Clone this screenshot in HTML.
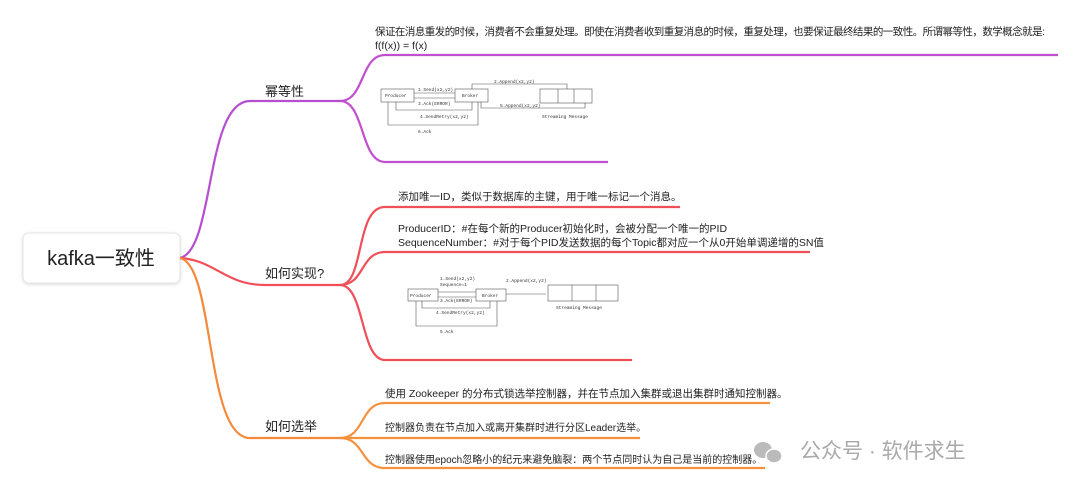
<!DOCTYPE html>
<html><head><meta charset="utf-8"><style>
body{margin:0;background:#fff;}
svg text{font-family:"Liberation Sans","Noto Sans CJK SC",sans-serif;fill:#222;}
.d text{font-family:"Liberation Mono",monospace;font-size:4.5px;fill:#333}
</style></head><body>
<svg width="1080" height="494" viewBox="0 0 1080 494" xmlns="http://www.w3.org/2000/svg">
<defs><filter id="sh" x="-10%" y="-10%" width="120%" height="130%"><feDropShadow dx="0" dy="1" stdDeviation="1.5" flood-color="#000" flood-opacity="0.15"/></filter></defs>
<rect x="23" y="233" width="157" height="50" rx="6" fill="#fff" stroke="#e6e6e6" filter="url(#sh)"/>
<text x="101" y="265" font-size="20" text-anchor="middle" fill="#333">kafka一致性</text>
<g fill="none" stroke-width="2.2">
<path d="M180 258 C215 250 205 101 250 101 L340 101" stroke="#b54fd0"/>
<path d="M340 101 C365 101 360 55 385 55 L1058 55" stroke="#c24fd0"/>
<path d="M340 101 C365 101 360 162 385 162 L608 162" stroke="#c24fd0"/>
<path d="M180 258 C215 260 225 285 265 285 L340 285" stroke="#f24e58"/>
<path d="M340 285 C365 285 355 207 385 207 L680 207" stroke="#f04e58"/>
<path d="M340 285 C365 285 360 252 385 252 L810 252" stroke="#f04e58"/>
<path d="M340 285 C365 285 360 360 385 360 L632 360" stroke="#f04e58"/>
<path d="M180 258 C215 265 205 438 250 438 L340 438" stroke="#f58a3c"/>
<path d="M340 438 C365 438 360 403 385 403 L770 403" stroke="#f5903c"/>
<path d="M340 438 L640 438" stroke="#f5903c"/>
<path d="M340 438 C365 438 360 468 385 468 L765 468" stroke="#f5903c"/>
</g>
<text x="265" y="96" font-size="13">幂等性</text>
<text x="265" y="278" font-size="13">如何实现?</text>
<text x="265" y="431" font-size="13">如何选举</text>
<g font-size="10.5">
<text x="375" y="35" textLength="670">保证在消息重发的时候，消费者不会重复处理。即使在消费者收到重复消息的时候，重复处理，也要保证最终结果的一致性。所谓幂等性，数学概念就是:</text>
<text x="375" y="49">f(f(x)) = f(x)</text>
<text x="398" y="200">添加唯一ID，类似于数据库的主键，用于唯一标记一个消息。</text>
<text x="398" y="232">ProducerID：#在每个新的Producer初始化时，会被分配一个唯一的PID</text>
<text x="398" y="246">SequenceNumber：#对于每个PID发送数据的每个Topic都对应一个从0开始单调递增的SN值</text>
<text x="385" y="397">使用 Zookeeper 的分布式锁选举控制器，并在节点加入集群或退出集群时通知控制器。</text>
<text x="385" y="431" font-size="10">控制器负责在节点加入或离开集群时进行分区Leader选举。</text>
<text x="385" y="463" font-size="10">控制器使用epoch忽略小的纪元来避免脑裂：两个节点同时认为自己是当前的控制器。</text>
</g>
<g class="d" fill="none" stroke="#555" stroke-width="0.6">
<rect x="381" y="89" width="33" height="13" fill="#fff"/><rect x="455" y="89" width="33" height="13" fill="#fff"/>
<rect x="540" y="89" width="52" height="14"/><line x1="558" y1="89" x2="558" y2="103"/><line x1="574" y1="89" x2="574" y2="103"/>
<path d="M414 93 H455 M414 98 H455 M396 102 V110 H472 V102 M388 102 V125 H478 V102 M472 89 V84 H567 V89 M481 102 V108 H585 V103"/>
<text x="385" y="97" stroke="none">Producer</text><text x="462" y="97" stroke="none">Broker</text>
<text x="418" y="91" stroke="none">1.Send(x2,y2)</text><text x="418" y="105" stroke="none">3.Ack(ERROR)</text>
<text x="420" y="118" stroke="none">4.SendRetry(x2,y2)</text><text x="418" y="133" stroke="none">6.Ack</text>
<text x="494" y="83" stroke="none">2.Append(x2,y2)</text><text x="500" y="107" stroke="none">5.Append(x2,y2)</text>
<text x="542" y="118" stroke="none">Streaming Message</text>
<rect x="408" y="289" width="30" height="12" fill="#fff"/><rect x="476" y="289" width="30" height="12" fill="#fff"/>
<rect x="548" y="285" width="70" height="16"/><line x1="572" y1="285" x2="572" y2="301"/><line x1="596" y1="285" x2="596" y2="301"/>
<path d="M438 292 H476 M438 297 H476 M422 301 V308 H490 V301 M416 301 V326 H497 V301 M506 294 H546"/>
<text x="410" y="297" stroke="none">Producer</text><text x="482" y="297" stroke="none">Broker</text>
<text x="440" y="280" stroke="none">1.Send(x2,y2)</text><text x="440" y="286" stroke="none">Sequence=1</text>
<text x="440" y="302" stroke="none">3.Ack(ERROR)</text><text x="436" y="314" stroke="none">4.SendRetry(x2,y2)</text>
<text x="506" y="282" stroke="none">2.Append(x2,y2)</text><text x="556" y="309" stroke="none">Streaming Message</text>
<text x="440" y="333" stroke="none">5.Ack</text>
</g>
<g fill="#bbb"><ellipse cx="763" cy="450" rx="9" ry="8"/><ellipse cx="774" cy="456" rx="8" ry="7" stroke="#fff" stroke-width="1.5"/></g>
<text x="800" y="458" font-size="21" fill="#a9a9a9" style="fill:#a9a9a9">公众号 · 软件求生</text>
</svg>
</body></html>
